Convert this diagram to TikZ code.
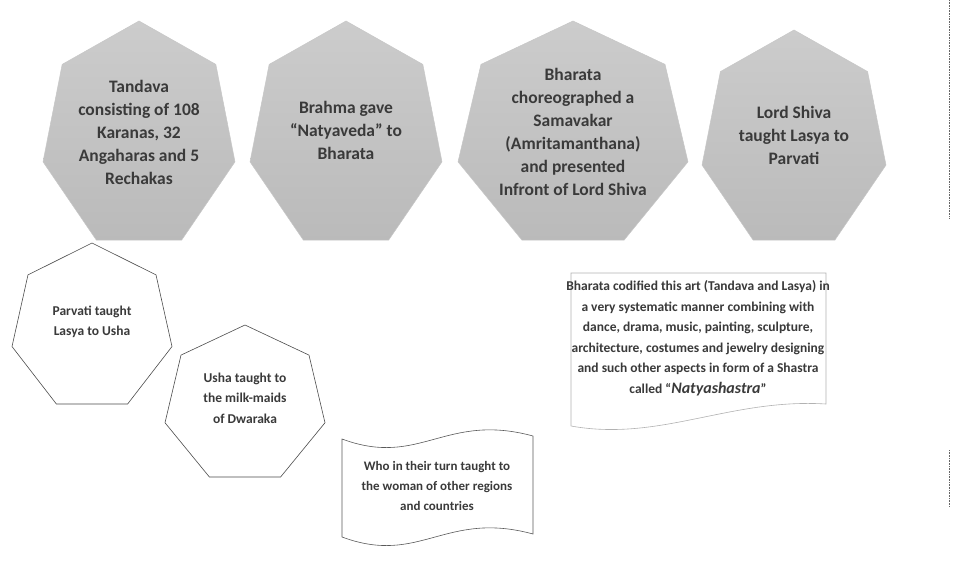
\documentclass[tikz,border=0pt]{standalone}
\usepackage{fontspec}
\setmainfont{Carlito}
\definecolor{txt}{HTML}{3A3A3A}
\newcommand\hept[5]{%
  \path[#5] ({#1},{#2}) -- ({#1+0.8*#3},{#2+0.198*#4}) -- ({#1+#3},{#2+0.643*#4})
   -- ({#1+0.445*#3},{#2+#4}) -- ({#1-0.445*#3},{#2+#4}) -- ({#1-#3},{#2+0.643*#4})
   -- ({#1-0.8*#3},{#2+0.198*#4}) -- cycle;}
\begin{document}
\begin{tikzpicture}[x=1pt,y=-1pt,
  filled/.style={top color=black!20,bottom color=black!27,draw=black!22,line width=0.5},
  outlined/.style={draw=black!70,line width=0.6,fill=white},
  bigt/.style={align=center,text=txt,font=\bfseries\fontsize{17.5}{23}\selectfont},
  smallt/.style={align=center,text=txt,font=\bfseries\fontsize{13.5}{20.5}\selectfont},
  wave/.style={draw=black!45,line width=0.6,fill=white}]
\useasboundingbox (0,0) rectangle (956,563);
\hept{139}{21}{96}{219}{filled}
\hept{346}{21}{96}{219}{filled}
\hept{573}{21}{115}{219}{filled}
\hept{794}{30}{92}{210}{filled}
\node[bigt] (t1) at (139,132) {Tandava\\consisting of 108\\Karanas, 32\\Angaharas and 5\\Rechakas};
\node[bigt] (t2) at (346,130) {Brahma gave\\“Natyaveda” to\\Bharata};
\node[bigt] (t3) at (573,132) {Bharata\\choreographed a\\Samavakar\\(Amritamanthana)\\and presented\\Infront of Lord Shiva};
\node[bigt] (t4) at (794,135) {Lord Shiva\\taught Lasya to\\Parvati};
\hept{92}{243}{80}{161}{outlined}
\hept{245}{325}{80}{152}{outlined}
\node[smallt] (b1) at (92,322) {Parvati taught\\Lasya to Usha};
\node[smallt] (b2) at (245,398) {Usha taught to\\the milk-maids\\of Dwaraka};
\path[wave,draw=black!30] (571,426) -- (571,273) -- (826,273) -- (826,404)
  .. controls (730,398) and (660,442) .. (571,426);
\node[smallt] (c1) at (698,338) {Bharata codified this art (Tandava and Lasya) in\\a very systematic manner combining with\\dance, drama, music, painting, sculpture,\\architecture, costumes and jewelry designing\\and such other aspects in form of a Shastra\\called “\textit{\fontsize{16}{20}\selectfont Natyashastra}”};
\path[wave,draw=black!65] (342,439) .. controls (420,468) and (445,412) .. (533,436)
  -- (533,534) .. controls (445,510) and (420,566) .. (342,537) -- cycle;
\node[smallt,font=\bfseries\fontsize{13}{20}\selectfont] (c2) at (437,486) {Who in their turn taught to\\the woman of other regions\\and countries};
\draw[black!60,densely dotted,line width=0.6] (949,0) -- (949,218) (949,450) -- (949,507);
\end{tikzpicture}
\end{document}
